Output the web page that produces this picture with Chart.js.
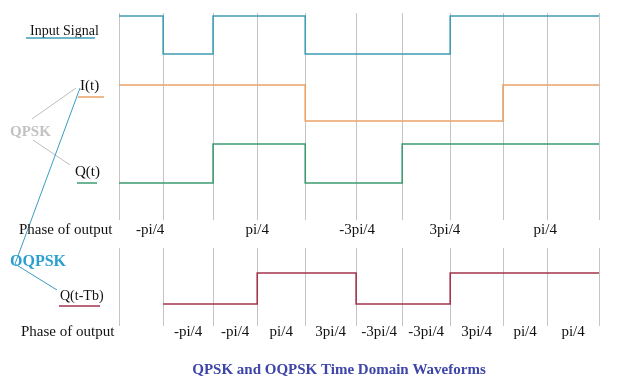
<!DOCTYPE html>
<html>
<head>
<meta charset="utf-8">
<script src="https://cdn.jsdelivr.net/npm/chart.js@4.4.1/dist/chart.umd.min.js"></script>
<style>
  html, body { margin: 0; padding: 0; background: #fff; }
  #wrap { width: 624px; height: 384px; }
</style>
</head>
<body>
<div id="wrap"><canvas id="wave" width="624" height="384"></canvas></div>
<script>
// bit period edges (time, in bit periods) as drawn
const bitEdges = [0, 0.92, 1.96, 2.88, 3.88, 4.94, 5.9, 6.9, 8, 8.92, 10];

const inputBits = [1, 0, 1, 1, 0, 0, 0, 1, 1, 1];
const iBits = [1, 1, 1, 1, 0, 0, 0, 0, 1, 1];
const qBits = [0, 0, 1, 1, 0, 0, 1, 1, 1, 1];
// OQPSK Q(t-Tb) starts one bit later
const qDelayedStart = 1;
const qDelayedBits = [0, 0, 1, 1, 0, 0, 1, 1, 1];

const qpskPhases = ['-pi/4', 'pi/4', '-3pi/4', '3pi/4', 'pi/4'];
const qpskPhaseAt = [0.65, 2.88, 4.96, 6.79, 8.88];
const oqpskPhases = ['-pi/4', '-pi/4', 'pi/4', '3pi/4', '-3pi/4', '-3pi/4', '3pi/4', 'pi/4', 'pi/4'];

// row layout (y axis runs top-down in pixels)
const rows = {
  input: { hi: 16, lo: 54, color: '#3f9cb4' },
  i: { hi: 85, lo: 121, color: '#eba266' },
  q: { hi: 144, lo: 183, color: '#3d9a72' },
  qd: { hi: 273, lo: 304, color: '#a3344c' }
};

function stepPoints(bits, start, row) {
  const pts = bits.map((b, k) => ({ x: bitEdges[start + k], y: b ? row.hi : row.lo }));
  const last = bits[bits.length - 1];
  pts.push({ x: bitEdges[start + bits.length], y: last ? row.hi : row.lo });
  return pts;
}

function wave(bits, start, row) {
  return {
    data: stepPoints(bits, start, row),
    borderColor: row.color,
    borderWidth: 1.6,
    pointRadius: 0,
    stepped: 'before',
    fill: false
  };
}

const serif = '"Liberation Serif", "Times New Roman", serif';

const decor = {
  id: 'decor',
  beforeDatasetsDraw(chart) {
    const ctx = chart.ctx;
    const x = chart.scales.x, y = chart.scales.y;
    ctx.save();
    ctx.strokeStyle = '#c4c4c4';
    ctx.lineWidth = 1;
    bitEdges.forEach(t => {
      const px = Math.round(x.getPixelForValue(t)) + 0.5;
      [[13, 220], [248, 326]].forEach(([a, b]) => {
        ctx.beginPath();
        ctx.moveTo(px, y.getPixelForValue(a));
        ctx.lineTo(px, y.getPixelForValue(b));
        ctx.stroke();
      });
    });
    ctx.restore();
  },
  afterDatasetsDraw(chart) {
    const ctx = chart.ctx;
    const x = chart.scales.x;
    ctx.save();

    // connector lines
    ctx.lineWidth = 1;
    ctx.strokeStyle = '#bdbdbd';
    ctx.beginPath();
    ctx.moveTo(32, 119); ctx.lineTo(76, 88);
    ctx.moveTo(33, 140); ctx.lineTo(70, 165);
    ctx.stroke();
    ctx.strokeStyle = '#3a9cc0';
    ctx.beginPath();
    ctx.moveTo(80, 88); ctx.lineTo(15, 264); ctx.lineTo(57, 290);
    ctx.stroke();

    // labels with underlines
    ctx.textAlign = 'left';
    ctx.textBaseline = 'alphabetic';
    const labels = [
      ['Input Signal', 14, 30, 35, rows.input.color, 26, 95, 38],
      ['I(t)', 15, 80, 90, rows.i.color, 78, 104, 97],
      ['Q(t)', 15, 75, 176, rows.q.color, 77, 97, 183],
      ['Q(t-Tb)', 14, 60, 300, rows.qd.color, 59, 100, 306]
    ];
    labels.forEach(([t, fs, lx, ly, c, u0, u1, uy]) => {
      ctx.font = fs + 'px ' + serif;
      ctx.fillStyle = '#111';
      ctx.fillText(t, lx, ly);
      ctx.strokeStyle = c;
      ctx.lineWidth = 1.5;
      ctx.beginPath();
      ctx.moveTo(u0, uy); ctx.lineTo(u1, uy);
      ctx.stroke();
    });
    ctx.font = '15px ' + serif;
    ctx.fillStyle = '#111';
    ctx.fillText('Phase of output', 19, 234);
    ctx.fillText('Phase of output', 21, 336);

    ctx.font = 'bold 15px ' + serif;
    ctx.fillStyle = '#c2c2c2';
    ctx.fillText('QPSK', 10, 136);
    ctx.font = 'bold 16px ' + serif;
    ctx.fillStyle = '#2b9fd0';
    ctx.fillText('OQPSK', 10, 266);

    // phase labels
    ctx.font = '15px ' + serif;
    ctx.fillStyle = '#111';
    ctx.textAlign = 'center';
    qpskPhases.forEach((p, k) => {
      ctx.fillText(p, x.getPixelForValue(qpskPhaseAt[k]), 234);
    });
    oqpskPhases.forEach((p, k) => {
      const j = qDelayedStart + k;
      const mid = (bitEdges[j] + bitEdges[j + 1]) / 2;
      ctx.fillText(p, x.getPixelForValue(mid), 336);
    });

    // title
    ctx.font = 'bold 15px ' + serif;
    ctx.fillStyle = '#3d45a8';
    ctx.fillText('QPSK and OQPSK Time Domain Waveforms', 339, 374);
    ctx.restore();
  }
};

new Chart(document.getElementById('wave'), {
  type: 'line',
  data: {
    datasets: [
      wave(inputBits, 0, rows.input),
      wave(iBits, 0, rows.i),
      wave(qBits, 0, rows.q),
      wave(qDelayedBits, qDelayedStart, rows.qd)
    ]
  },
  options: {
    responsive: false,
    animation: false,
    devicePixelRatio: 1,
    layout: { padding: 0 },
    plugins: { legend: { display: false }, tooltip: { enabled: false } },
    scales: {
      x: { type: 'linear', min: -119 / 48, max: 505 / 48, display: false },
      y: { type: 'linear', min: 0, max: 384, reverse: true, display: false }
    }
  },
  plugins: [decor]
});
</script>
</body>
</html>
